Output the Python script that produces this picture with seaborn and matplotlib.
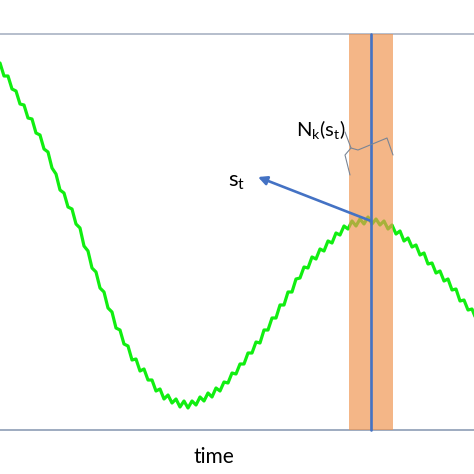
import numpy as np
import pandas as pd
import seaborn as sns
import matplotlib.pyplot as plt

time_pts = np.arange(0, 480, 4)
signal = [411, 398, 398, 385, 383, 370, 369, 356, 355, 341,
          339, 325, 322, 306, 300, 284, 281, 267, 265, 250,
          246, 228, 223, 206, 202, 186, 182, 166, 162, 146,
          144, 130, 128, 114, 115, 103, 105, 94, 94, 83,
          85, 75, 79, 71, 75, 67, 73, 66, 73, 69,
          77, 73, 81, 77, 86, 83, 92, 91, 101, 100,
          110, 110, 121, 121, 132, 131, 144, 144, 156, 156,
          169, 169, 182, 182, 195, 196, 207, 206, 217, 215,
          225, 223, 233, 231, 241, 239, 248, 245, 253, 248,
          255, 250, 257, 250, 255, 249, 253, 245, 249, 240,
          243, 233, 236, 227, 229, 219, 221, 210, 211, 201,
          203, 193, 195, 184, 185, 173, 174, 164, 165, 155]

upper_level = 440
lower_level = 44
window = (349, 393)
t_now = 371
s_now = 253
arrow_tail = (258, 297)
brace_a = ([345, 351, 345, 350], [342, 326, 319, 299])
brace_b = ([351, 358, 387, 393], [326, 324, 336, 319])

df = pd.DataFrame({'time': time_pts, 'signal': signal})

sns.set_style('white')
plt.rcParams['font.family'] = ['Lato', 'DejaVu Sans']
plt.rcParams['mathtext.fontset'] = 'custom'
plt.rcParams['mathtext.rm'] = 'Lato'
plt.rcParams['mathtext.it'] = 'Lato'

fig = plt.figure(figsize=(4.74, 4.74), dpi=100)
ax = fig.add_axes([0, 0, 1, 1])

sns.lineplot(data=df, x='time', y='signal', ax=ax, color='#11ee11', lw=2.3, zorder=2)

ax.axhline(upper_level, color='#a9b3c3', lw=1.2, zorder=1)
ax.axhline(lower_level, color='#8d9db5', lw=1.2, zorder=1)

ax.fill_between(window, lower_level, upper_level, color='#f0944f', alpha=0.68,
                lw=0, zorder=3)
ax.plot([t_now, t_now], [lower_level, upper_level], color='#4472c4', lw=1.9, zorder=4)

ax.annotate('', xy=arrow_tail, xytext=(t_now, s_now),
            arrowprops=dict(arrowstyle='-|>', color='#4472c4', lw=1.9,
                            mutation_scale=13, shrinkA=0, shrinkB=0), zorder=5)

ax.plot(*brace_a, color='#7a8595', lw=0.8, zorder=5)
ax.plot(*brace_b, color='#7a8595', lw=0.8, zorder=5)

ax.text(237, 292, r'$\mathrm{s_t}$', fontsize=16, color='black', ha='center', va='center')
ax.text(321, 345, r'$\mathrm{N_k(s_t)}$', fontsize=14.5, color='black', ha='center', va='center')
ax.text(214, 17, 'time', fontsize=15, color='black', ha='center', va='center')

ax.set_xlim(0, 474)
ax.set_ylim(0, 474)
ax.axis('off')

fig.savefig('out.png', dpi=100)
